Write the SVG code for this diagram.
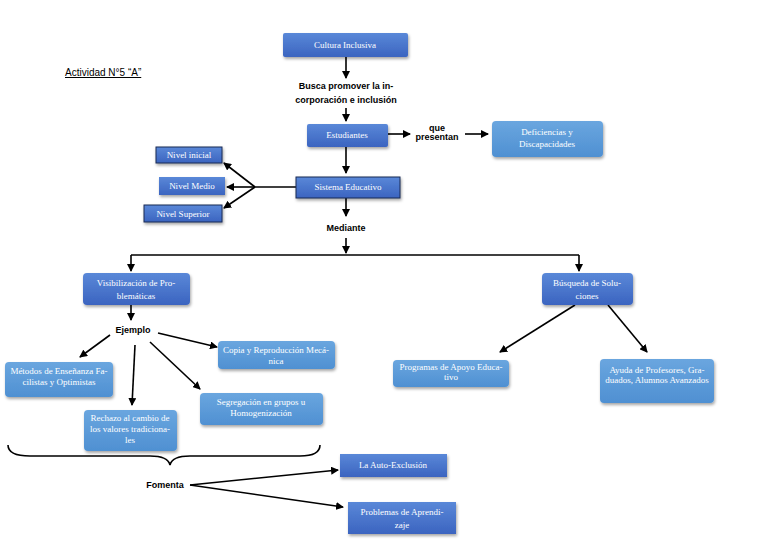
<svg xmlns="http://www.w3.org/2000/svg" width="768" height="543" viewBox="0 0 768 543">
<style>
.d{fill:url(#gd);filter:url(#sh)}
.l{fill:url(#gl);filter:url(#sh)}
.t{font-family:"Liberation Serif",serif;fill:#fff;font-size:9px;text-anchor:middle}
.s{font-family:"Liberation Sans",sans-serif;fill:#000;font-size:9px;text-anchor:middle;font-weight:bold}
.c{stroke:#000;stroke-width:1.6;fill:none;marker-end:url(#ah)}
.n{stroke:#000;stroke-width:1.6;fill:none}
</style>
<defs>
<linearGradient id="gd" x1="0" y1="0" x2="0" y2="1"><stop offset="0" stop-color="#5a88d8"/><stop offset="1" stop-color="#3b64c0"/></linearGradient>
<linearGradient id="gl" x1="0" y1="0" x2="0" y2="1"><stop offset="0" stop-color="#6aa6df"/><stop offset="1" stop-color="#4f90d2"/></linearGradient>
<filter id="sh" x="-10%" y="-20%" width="130%" height="150%"><feDropShadow dx="1" dy="2" stdDeviation="1.5" flood-color="#000" flood-opacity="0.35"/></filter>
<marker id="ah" markerWidth="8" markerHeight="8" refX="7" refY="4" orient="auto" markerUnits="userSpaceOnUse"><path d="M0,0L8,4L0,8z" fill="#000"/></marker>
</defs>
<rect width="768" height="543" fill="#fff"/>
<text x="65" y="76" font-family="Liberation Sans,sans-serif" font-size="10" text-decoration="underline">Actividad N°5 “A”</text>
<g id="connectors">
<path class="c" d="M346,57V78"/>
<path class="c" d="M346,108V121"/>
<path class="c" d="M388,134H410"/>
<path class="c" d="M465,134H488"/>
<path class="c" d="M346,147V173"/>
<path class="n" d="M296,187H255"/>
<path class="c" d="M255,187L224,163"/>
<path class="c" d="M255,187H227"/>
<path class="c" d="M255,187L224,208"/>
<path class="c" d="M346,198V216"/>
<path class="c" d="M346,238V253"/>
<path class="n" d="M131,255H579"/>
<path class="c" d="M131,255V271"/>
<path class="c" d="M579,255V271"/>
<path class="c" d="M131,305V320"/>
<path class="c" d="M110,335L80,357"/>
<path class="c" d="M135,345L132,405"/>
<path class="c" d="M150,342L200,389"/>
<path class="c" d="M158,333L217,347"/>
<path class="c" d="M575,305L500,352"/>
<path class="c" d="M608,305L647,352"/>
<path class="n" stroke-width="0.8" d="M8,445Q8,456 30,456H150Q168,456 170,465Q172,456 190,456H300Q320,456 320,445"/>
<path class="c" d="M190,485L338,470"/>
<path class="c" d="M190,485L343,507"/>
</g>
<g id="cultura"><rect class="d" x="283" y="33" width="125" height="24" rx="2"/><text class="t" x="345" y="48" font-size="11">Cultura Inclusiva</text></g>
<text class="s" x="346" y="89">Busca promover la in-</text>
<text class="s" x="346" y="103">corporación e inclusión</text>
<g id="estudiantes"><rect class="d" x="307" y="124" width="81" height="23" rx="2"/><text class="t" x="347" y="138">Estudiantes</text></g>
<text class="s" x="437" y="131" font-size="8">que</text>
<text class="s" x="437" y="140" font-size="8">presentan</text>
<g id="deficiencias"><rect class="l" x="492" y="121" width="111" height="36" rx="4"/><text class="t" x="547" y="135">Deficiencias y</text><text class="t" x="547" y="147">Discapacidades</text></g>
<g id="sistema"><rect class="d" x="296" y="177" width="104" height="21" stroke="#1a2a55" stroke-width="1"/><text class="t" x="348" y="190">Sistema Educativo</text></g>
<g id="inicial"><rect class="d" x="156" y="147" width="66" height="16" stroke="#1a2a55" stroke-width="1"/><text class="t" x="189" y="158">Nivel inicial</text></g>
<g id="medio"><rect class="d" x="159" y="177" width="66" height="18"/><text class="t" x="192" y="189">Nivel Medio</text></g>
<g id="superior"><rect class="d" x="144" y="205" width="78" height="17" stroke="#1a2a55" stroke-width="1"/><text class="t" x="183" y="217">Nivel Superior</text></g>
<text class="s" x="346" y="231" font-size="8">Mediante</text>
<g id="visibilizacion"><rect class="d" x="83" y="273" width="107" height="32" rx="4"/><text class="t" x="136" y="286">Visibilización de Pro-</text><text class="t" x="136" y="299">blemáticas</text></g>
<g id="busqueda"><rect class="d" x="542" y="273" width="91" height="32" rx="4"/><text class="t" x="587" y="286">Búsqueda de Solu-</text><text class="t" x="587" y="299">ciones</text></g>
<text class="s" x="133" y="333">Ejemplo</text>
<g id="metodos"><rect class="l" x="5" y="362" width="108" height="35" rx="4"/><text class="t" x="59" y="374" font-size="7">Métodos de Enseñanza Fa-</text><text class="t" x="59" y="385" font-size="7">cilistas y Optimistas</text></g>
<g id="rechazo"><rect class="l" x="84" y="410" width="93" height="41" rx="4"/><text class="t" x="130" y="421" font-size="7">Rechazo al cambio de</text><text class="t" x="130" y="432" font-size="7">los valores tradiciona-</text><text class="t" x="130" y="443" font-size="7">les</text></g>
<g id="copia"><rect class="l" x="218" y="341" width="117" height="28" rx="4"/><text class="t" x="276" y="353" font-size="7">Copia y Reproducción Mecá-</text><text class="t" x="276" y="364" font-size="7">nica</text></g>
<g id="segregacion"><rect class="l" x="200" y="393" width="123" height="32" rx="4"/><text class="t" x="261" y="405" font-size="7">Segregación en grupos u</text><text class="t" x="261" y="416" font-size="7">Homogenización</text></g>
<g id="programas"><rect class="l" x="393" y="360" width="116" height="27" rx="4"/><text class="t" x="451" y="370" font-size="7">Programas de Apoyo Educa-</text><text class="t" x="451" y="380" font-size="7">tivo</text></g>
<g id="ayuda"><rect class="l" x="600" y="359" width="114" height="44" rx="4"/><text class="t" x="657" y="373" font-size="7">Ayuda de Profesores, Gra-</text><text class="t" x="657" y="383" font-size="7">duados, Alumnos Avanzados</text></g>
<text class="s" x="165" y="488" font-size="8">Fomenta</text>
<g id="autoexclusion"><rect class="d" x="340" y="454" width="107" height="23"/><text class="t" x="393" y="468">La Auto-Exclusión</text></g>
<g id="problemas"><rect class="d" x="348" y="502" width="108" height="32"/><text class="t" x="402" y="515">Problemas de Aprendi-</text><text class="t" x="402" y="528">zaje</text></g>
</svg>
